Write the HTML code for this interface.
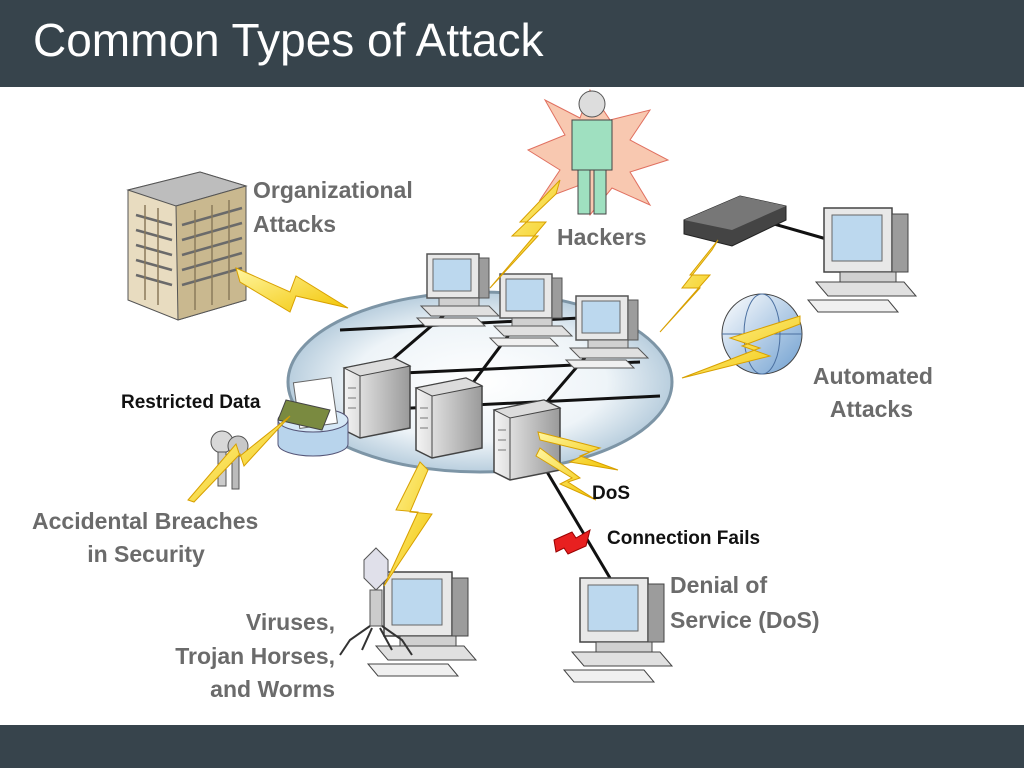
<!DOCTYPE html>
<html><head><meta charset="utf-8"><style>
html,body{margin:0;padding:0;background:#fff;}
body{width:1024px;height:768px;overflow:hidden;position:relative;font-family:"Liberation Sans",sans-serif;}
svg text{font-family:"Liberation Sans",sans-serif;}
</style></head><body>
<svg width="1024" height="768" viewBox="0 0 1024 768" xmlns="http://www.w3.org/2000/svg">
<defs>
<radialGradient id="ell" cx="50%" cy="50%" r="55%">
<stop offset="0" stop-color="#ffffff"/><stop offset="0.6" stop-color="#eef4f8"/><stop offset="1" stop-color="#a9c3d6"/></radialGradient>
<linearGradient id="bolt" x1="0" y1="0" x2="1" y2="1"><stop offset="0" stop-color="#fff6a0"/><stop offset="1" stop-color="#f2c400"/></linearGradient>
<linearGradient id="srv" x1="0" y1="0" x2="1" y2="0"><stop offset="0" stop-color="#f4f4f4"/><stop offset="1" stop-color="#9a9a9a"/></linearGradient>
<linearGradient id="glob" x1="0" y1="0" x2="1" y2="1"><stop offset="0" stop-color="#ffffff"/><stop offset="1" stop-color="#6f9fd0"/></linearGradient>
<g id="pc">
<rect x="0" y="0" width="52" height="44" fill="#e8e8e8" stroke="#555" stroke-width="1.5"/>
<rect x="6" y="5" width="38" height="32" fill="#bcd8ee" stroke="#666"/>
<rect x="52" y="4" width="10" height="40" fill="#9c9c9c" stroke="#555"/>
<rect x="12" y="44" width="40" height="8" fill="#d0d0d0" stroke="#555"/>
<path d="M-6 52 L62 52 L72 62 L4 62 Z" fill="#e0e0e0" stroke="#555"/>
<path d="M-10 64 L50 64 L58 72 L-2 72 Z" fill="#f0f0f0" stroke="#555"/>
</g>
<g id="bigpc">
<rect x="0" y="0" width="68" height="64" fill="#e8e8e8" stroke="#444" stroke-width="1.5"/>
<rect x="8" y="7" width="50" height="46" fill="#bcd8ee" stroke="#666"/>
<rect x="68" y="6" width="16" height="58" fill="#9c9c9c" stroke="#444"/>
<rect x="16" y="64" width="56" height="10" fill="#d0d0d0" stroke="#444"/>
<path d="M-8 74 L80 74 L92 88 L4 88 Z" fill="#e0e0e0" stroke="#444"/>
<path d="M-16 92 L64 92 L74 104 L-6 104 Z" fill="#f0f0f0" stroke="#444"/>
</g>
<g id="server">
<path d="M0 10 L50 0 L66 8 L66 70 L16 80 L0 72 Z" fill="url(#srv)" stroke="#444" stroke-width="1.5"/>
<path d="M0 10 L50 0 L66 8 L16 18 Z" fill="#dcdcdc" stroke="#444"/>
<line x1="16" y1="18" x2="16" y2="80" stroke="#444"/>
<line x1="4" y1="30" x2="12" y2="30" stroke="#777"/><line x1="4" y1="40" x2="12" y2="40" stroke="#777"/><line x1="4" y1="50" x2="12" y2="50" stroke="#777"/>
</g>
</defs>
<rect x="0" y="0" width="1024" height="87" fill="#37444c"/>
<text x="33" y="56" font-size="46" fill="#fff">Common Types of Attack</text>
<rect x="0" y="725" width="1024" height="43" fill="#37444c"/>

<ellipse cx="480" cy="382" rx="192" ry="90" fill="url(#ell)" stroke="#7d95a6" stroke-width="3"/>
<g stroke="#111" stroke-width="3">
<line x1="340" y1="330" x2="580" y2="318"/>
<line x1="360" y1="375" x2="640" y2="362"/>
<line x1="370" y1="410" x2="660" y2="396"/>
<line x1="450" y1="310" x2="380" y2="370"/>
<line x1="520" y1="320" x2="460" y2="400"/>
<line x1="600" y1="340" x2="540" y2="410"/>
<line x1="540" y1="460" x2="610" y2="578"/>
<line x1="760" y1="220" x2="830" y2="240"/>
</g>
<use href="#pc" x="427" y="254"/>
<use href="#pc" x="500" y="274"/>
<use href="#pc" x="576" y="296"/>
<use href="#server" x="344" y="358"/>
<use href="#server" x="416" y="378"/>
<use href="#server" x="494" y="400"/>

<path d="M128 190 L200 172 L246 186 L246 300 L178 320 L128 300 Z" fill="#e8dcc0" stroke="#555"/>
<path d="M128 190 L200 172 L246 186 L176 206 Z" fill="#bdbdbd" stroke="#555"/>
<path d="M176 206 L246 186 L246 300 L178 320 Z" fill="#c9b88f" stroke="#555"/>
<g stroke="#6a6a6a" stroke-width="2.5">
<line x1="136" y1="215" x2="172" y2="225"/><line x1="136" y1="230" x2="172" y2="240"/><line x1="136" y1="245" x2="172" y2="255"/><line x1="136" y1="260" x2="172" y2="270"/><line x1="136" y1="275" x2="172" y2="285"/>
<line x1="182" y1="225" x2="242" y2="208"/><line x1="182" y1="240" x2="242" y2="223"/><line x1="182" y1="255" x2="242" y2="238"/><line x1="182" y1="270" x2="242" y2="253"/><line x1="182" y1="285" x2="242" y2="268"/>
</g>
<g stroke="#8a7a5a" stroke-width="1.5">
<line x1="145" y1="205" x2="145" y2="300"/><line x1="158" y1="208" x2="158" y2="305"/>
<line x1="195" y1="210" x2="195" y2="310"/><line x1="212" y1="205" x2="212" y2="305"/><line x1="229" y1="200" x2="229" y2="300"/>
</g>

<polygon points="590,90 610,120 650,110 630,140 668,160 630,172 650,205 612,188 590,215 580,185 540,200 560,170 528,150 565,135 545,100 580,118" fill="#f8c8b0" stroke="#e07060"/>
<circle cx="592" cy="104" r="13" fill="#ddd" stroke="#555"/>
<rect x="572" y="120" width="40" height="50" fill="#9fe0c0" stroke="#444"/>
<rect x="578" y="170" width="12" height="44" fill="#9fe0c0" stroke="#444"/>
<rect x="594" y="170" width="12" height="44" fill="#9fe0c0" stroke="#444"/>

<path d="M684 220 L740 196 L786 206 L786 220 L732 246 L684 234 Z" fill="#444" stroke="#222"/>
<path d="M684 220 L740 196 L786 206 L732 230 Z" fill="#777"/>
<use href="#bigpc" x="824" y="208"/>
<circle cx="762" cy="334" r="40" fill="url(#glob)" stroke="#444"/>
<ellipse cx="762" cy="334" rx="18" ry="40" fill="none" stroke="#4a6fa0"/>
<line x1="722" y1="334" x2="802" y2="334" stroke="#4a6fa0"/>

<use href="#bigpc" x="384" y="572"/>
<use href="#bigpc" x="580" y="578"/>
<polygon points="376,548 388,560 388,578 376,590 364,578 364,560" fill="#e0e0ea" stroke="#555"/>
<rect x="370" y="590" width="12" height="36" fill="#ccc" stroke="#555"/>
<g stroke="#333" stroke-width="2" fill="none"><path d="M370 626 L350 640 L340 655"/><path d="M382 626 L402 640 L412 655"/><path d="M372 628 L362 650"/><path d="M380 628 L392 650"/></g>

<path d="M278 420 L278 444 A35 12 0 0 0 348 444 L348 420" fill="#b8d4ec" stroke="#557"/>
<ellipse cx="313" cy="420" rx="35" ry="12" fill="#d6e8f6" stroke="#557"/>
<rect x="296" y="380" width="38" height="46" fill="#fff" stroke="#666" transform="rotate(-8 315 400)"/>
<path d="M286 400 L330 410 L322 430 L278 420 Z" fill="#7a8a40" stroke="#444"/>
<circle cx="222" cy="442" r="11" fill="#d8d8d8" stroke="#555"/>
<circle cx="238" cy="446" r="10" fill="#c8c8c8" stroke="#555"/>
<rect x="218" y="452" width="8" height="34" fill="#ccc" stroke="#555"/>
<rect x="232" y="455" width="7" height="34" fill="#bbb" stroke="#555"/>

<g fill="url(#bolt)" stroke="#d8a000" stroke-width="1">
<polygon points="236,268 290,292 296,276 348,308 296,296 290,312 240,282"/>
<polygon points="560,180 520,222 546,222 490,288 538,236 512,236 556,194"/>
<polygon points="718,240 690,275 710,275 660,332 700,288 682,288 712,250"/>
<polygon points="800,316 730,338 760,348 682,378 770,356 742,346 800,324"/>
<polygon points="420,462 396,510 418,512 384,586 432,514 410,512 428,470"/>
<polygon points="538,432 600,448 580,456 618,470 570,462 590,452 540,440"/>
<polygon points="540,448 580,478 568,482 596,500 560,484 572,478 536,456"/>
<polygon points="188,500 236,444 240,456 290,416 244,466 240,454 194,502"/>
</g>
<polygon points="554,540 572,532 576,538 590,530 586,546 568,554 564,548 556,552" fill="#e82020" stroke="#900"/>

<g font-weight="bold" fill="#6b6b6b" font-size="23">
<text x="253" y="198">Organizational</text>
<text x="253" y="232">Attacks</text>
<text x="557" y="245">Hackers</text>
<text x="933" y="384" text-anchor="end">Automated</text>
<text x="913" y="417" text-anchor="end">Attacks</text>
<text x="32" y="529">Accidental Breaches</text>
<text x="146" y="562" text-anchor="middle">in Security</text>
<text x="670" y="593">Denial of</text>
<text x="670" y="628">Service (DoS)</text>
<text x="335" y="630" text-anchor="end">Viruses,</text>
<text x="335" y="664" text-anchor="end">Trojan Horses,</text>
<text x="335" y="697" text-anchor="end">and Worms</text>
</g>
<g font-weight="bold" fill="#111" font-size="19">
<text x="121" y="408">Restricted Data</text>
<text x="592" y="499">DoS</text>
<text x="607" y="544">Connection Fails</text>
</g>
</svg>
</body></html>
